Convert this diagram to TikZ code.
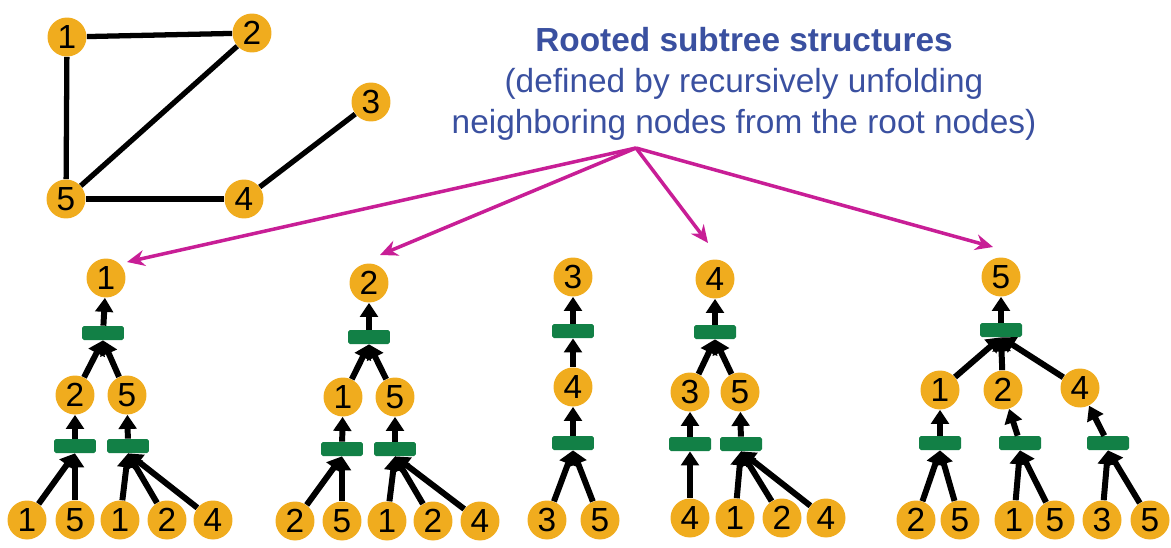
\documentclass[tikz,border=0pt]{standalone}
\usepackage{fontspec}
\setmainfont{Liberation Sans}
\usetikzlibrary{arrows.meta}
\definecolor{gold}{RGB}{240,172,30}
\definecolor{barg}{RGB}{18,128,70}
\definecolor{titleblue}{RGB}{58,80,160}
\definecolor{mag}{RGB}{200,30,150}
\begin{document}
\begin{tikzpicture}[x=0.02cm,y=-0.02cm]
    \tikzstyle{vert} = [circle,fill=gold,inner sep=0pt,minimum size=0.78cm,font=\fontsize{19}{20}\selectfont]
    \tikzstyle{bar} = [fill=barg,rounded corners=1pt,minimum width=0.84cm,minimum height=0.28cm,inner sep=0pt]
    \tikzstyle{edge} = [line width=3pt]
    \tikzstyle{up} = [line width=3.4pt,-{Triangle[length=8pt,width=10pt]}]
    \tikzstyle{point} = [line width=2pt,mag,-{Stealth[length=10pt,width=9pt]}]
    \useasboundingbox (0,0) rectangle (1171,548);
    % input graph
    \node [vert] (g1) at (67,37) {1};
    \node [vert] (g2) at (252,33) {2};
    \node [vert] (g3) at (371,102) {3};
    \node [vert] (g4) at (244,199) {4};
    \node [vert] (g5) at (66,199) {5};
    \draw [edge] (g1) -- (g2);
    \draw [edge] (g1) -- (g5);
    \draw [edge] (g2) -- (g5);
    \draw [edge] (g5) -- (g4);
    \draw [edge] (g4) -- (g3);
    % title
    \node [align=center,text=titleblue,font=\fontsize{19}{23.2}\selectfont] (title) at (744,84)
      {\textbf{Rooted subtree structures}\\(defined by recursively unfolding\\neighboring nodes from the root nodes)};
    \coordinate (src) at (636,148);
    % tree 1
    \node [vert] (a) at (106,278) {1};
    \node [bar] (ab) at (103,333) {};
    \node [vert] (a1) at (75,395) {2};
    \node [vert] (a2) at (127,395) {5};
    \node [bar] (a1b) at (75,446) {};
    \node [bar] (a2b) at (128,446) {};
    \node [vert] (a11) at (27,520) {1};
    \node [vert] (a12) at (75,520) {5};
    \node [vert] (a21) at (120,520) {1};
    \node [vert] (a22) at (167,520) {2};
    \node [vert] (a23) at (213,520) {4};
    \draw [up] (ab) -- (a);
    \draw [up] (a1) -- (ab.south);
    \draw [up] (a2) -- (ab.south);
    \draw [up] (a1b) -- (a1);
    \draw [up] (a2b) -- (a2);
    \foreach \c in {a11,a12} \draw [up] (\c) -- (a1b.south);
    \foreach \c in {a21,a22,a23} \draw [up] (\c) -- (a2b.south);
    % tree 2
    \node [vert] (b) at (369,283) {2};
    \node [bar] (bb) at (369,337) {};
    \node [vert] (b1) at (343,397) {1};
    \node [vert] (b2) at (395,397) {5};
    \node [bar] (b1b) at (342,449) {};
    \node [bar] (b2b) at (395,449) {};
    \node [vert] (b11) at (295,521) {2};
    \node [vert] (b12) at (342,521) {5};
    \node [vert] (b21) at (387,521) {1};
    \node [vert] (b22) at (433,521) {2};
    \node [vert] (b23) at (480,521) {4};
    \draw [up] (bb) -- (b);
    \draw [up] (b1) -- (bb.south);
    \draw [up] (b2) -- (bb.south);
    \draw [up] (b1b) -- (b1);
    \draw [up] (b2b) -- (b2);
    \foreach \c in {b11,b12} \draw [up] (\c) -- (b1b.south);
    \foreach \c in {b21,b22,b23} \draw [up] (\c) -- (b2b.south);
    % tree 3
    \node [vert] (c) at (573,277) {3};
    \node [bar] (cb) at (573,331) {};
    \node [vert] (c1) at (573,387) {4};
    \node [bar] (c1b) at (573,443) {};
    \node [vert] (c11) at (547,520) {3};
    \node [vert] (c12) at (600,520) {5};
    \draw [up] (cb) -- (c);
    \draw [up] (c1) -- (cb);
    \draw [up] (c1b) -- (c1);
    \foreach \c in {c11,c12} \draw [up] (\c) -- (c1b.south);
    % tree 4
    \node [vert] (d) at (715,279) {4};
    \node [bar] (db) at (715,332) {};
    \node [vert] (d1) at (690,392) {3};
    \node [vert] (d2) at (740,392) {5};
    \node [bar] (d1b) at (690,444) {};
    \node [bar] (d2b) at (741,444) {};
    \node [vert] (d11) at (690,518) {4};
    \node [vert] (d21) at (735,518) {1};
    \node [vert] (d22) at (782,518) {2};
    \node [vert] (d23) at (826,518) {4};
    \draw [up] (db) -- (d);
    \draw [up] (d1) -- (db.south);
    \draw [up] (d2) -- (db.south);
    \draw [up] (d1b) -- (d1);
    \draw [up] (d2b) -- (d2);
    \draw [up] (d11) -- (d1b);
    \foreach \c in {d21,d22,d23} \draw [up] (\c) -- (d2b.south);
    % tree 5
    \node [vert] (e) at (1001,277) {5};
    \node [bar] (eb) at (1001,330) {};
    \node [vert] (e1) at (940,390) {1};
    \node [vert] (e2) at (1003,390) {2};
    \node [vert] (e3) at (1080,388) {4};
    \node [bar] (e1b) at (940,443) {};
    \node [bar] (e2b) at (1020,443) {};
    \node [bar] (e3b) at (1108,443) {};
    \node [vert] (e11) at (916,520) {2};
    \node [vert] (e12) at (960,520) {5};
    \node [vert] (e21) at (1014,520) {1};
    \node [vert] (e22) at (1055,520) {5};
    \node [vert] (e31) at (1102,520) {3};
    \node [vert] (e32) at (1150,520) {5};
    \draw [up] (eb) -- (e);
    \foreach \c in {e1,e2,e3} \draw [up] (\c) -- (eb.south);
    \draw [up] (e1b) -- (e1);
    \draw [up] (e2b) -- (e2);
    \draw [up] (e3b) -- (e3);
    \foreach \c in {e11,e12} \draw [up] (\c) -- (e1b.south);
    \foreach \c in {e21,e22} \draw [up] (\c) -- (e2b.south);
    \foreach \c in {e31,e32} \draw [up] (\c) -- (e3b.south);
    % unfolding pointers
    \draw [point] (src) -- (127,262);
    \draw [point] (src) -- (380,255);
    \draw [point] (src) -- (708,243);
    \draw [point] (src) -- (993,247);
\end{tikzpicture}
\end{document}
